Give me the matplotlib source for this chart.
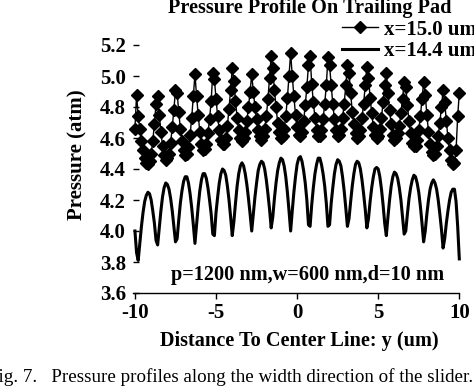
import matplotlib
matplotlib.use("Agg")
import matplotlib.pyplot as plt
import numpy as np

plt.rcParams['font.family'] = ['Liberation Serif', 'DejaVu Serif']
plt.rcParams['font.weight'] = 'bold'

# distance to center line y (um), sampled every 0.1 um
y_pos = np.round(np.linspace(-10, 10, 201), 1)

# pressure (atm) at x=15.0 um
p_150 = [
    4.66, 4.88, 4.74, 4.66, 4.58, 4.52, 4.47, 4.44, 4.43, 4.45,
    4.50, 4.58, 4.69, 4.82, 4.87, 4.75, 4.64, 4.55, 4.49, 4.46,
    4.47, 4.50, 4.57, 4.67, 4.78, 4.91, 4.89, 4.77, 4.66, 4.58,
    4.52, 4.49, 4.50, 4.54, 4.62, 4.73, 4.87, 5.01, 4.87, 4.75,
    4.64, 4.56, 4.52, 4.53, 4.56, 4.63, 4.72, 4.84, 5.02, 4.98,
    4.85, 4.74, 4.65, 4.59, 4.56, 4.56, 4.60, 4.68, 4.79, 4.91,
    5.05, 4.97, 4.84, 4.73, 4.65, 4.60, 4.58, 4.60, 4.64, 4.71,
    4.80, 4.90, 5.01, 4.90, 4.80, 4.72, 4.65, 4.61, 4.59, 4.61,
    4.66, 4.74, 4.85, 4.99, 5.13, 5.05, 4.91, 4.80, 4.70, 4.64,
    4.60, 4.61, 4.66, 4.74, 4.86, 5.00, 5.15, 5.00, 4.87, 4.75,
    4.67, 4.62, 4.61, 4.64, 4.71, 4.81, 4.93, 5.07, 5.13, 4.95,
    4.83, 4.73, 4.65, 4.61, 4.61, 4.65, 4.72, 4.82, 4.94, 5.12,
    5.07, 4.94, 4.82, 4.72, 4.65, 4.61, 4.62, 4.66, 4.73, 4.82,
    4.94, 5.07, 5.02, 4.89, 4.77, 4.69, 4.63, 4.60, 4.61, 4.65,
    4.73, 4.82, 4.94, 5.06, 4.99, 4.86, 4.76, 4.67, 4.62, 4.60,
    4.61, 4.66, 4.73, 4.83, 4.94, 5.02, 4.89, 4.78, 4.69, 4.62,
    4.59, 4.60, 4.63, 4.68, 4.76, 4.85, 4.96, 4.93, 4.81, 4.71,
    4.63, 4.57, 4.55, 4.55, 4.59, 4.65, 4.74, 4.85, 4.96, 4.88,
    4.75, 4.64, 4.56, 4.51, 4.49, 4.50, 4.55, 4.61, 4.70, 4.80,
    4.91, 4.83, 4.71, 4.60, 4.52, 4.46, 4.43, 4.44, 4.52, 4.74,
    4.89,
]

# pressure (atm) at x=14.4 um
p_144 = [
    4.00, 3.86, 3.81, 3.92, 4.03, 4.12, 4.19, 4.23, 4.25, 4.24,
    4.20, 4.13, 4.05, 3.94, 3.91, 4.02, 4.13, 4.22, 4.28, 4.31,
    4.30, 4.27, 4.21, 4.13, 4.03, 3.93, 3.95, 4.07, 4.18, 4.26,
    4.32, 4.35, 4.35, 4.31, 4.24, 4.15, 4.04, 3.92, 4.04, 4.16,
    4.26, 4.33, 4.37, 4.37, 4.34, 4.28, 4.20, 4.11, 3.98, 3.97,
    4.12, 4.22, 4.31, 4.37, 4.40, 4.39, 4.36, 4.29, 4.20, 4.09,
    3.97, 4.06, 4.18, 4.29, 4.37, 4.42, 4.44, 4.42, 4.37, 4.30,
    4.21, 4.11, 4.00, 4.11, 4.22, 4.31, 4.39, 4.43, 4.45, 4.44,
    4.40, 4.33, 4.24, 4.14, 4.02, 4.09, 4.21, 4.31, 4.39, 4.44,
    4.47, 4.46, 4.42, 4.35, 4.25, 4.13, 4.00, 4.13, 4.25, 4.35,
    4.43, 4.47, 4.48, 4.45, 4.39, 4.31, 4.20, 4.04, 4.03, 4.17,
    4.28, 4.37, 4.43, 4.47, 4.47, 4.43, 4.37, 4.29, 4.18, 4.03,
    4.04, 4.18, 4.28, 4.37, 4.43, 4.46, 4.45, 4.42, 4.35, 4.26,
    4.15, 4.03, 4.08, 4.19, 4.29, 4.37, 4.43, 4.45, 4.44, 4.40,
    4.33, 4.24, 4.14, 4.02, 4.08, 4.19, 4.28, 4.35, 4.40, 4.41,
    4.40, 4.35, 4.27, 4.17, 4.05, 3.97, 4.09, 4.20, 4.29, 4.35,
    4.38, 4.37, 4.34, 4.28, 4.20, 4.09, 3.98, 4.00, 4.11, 4.21,
    4.28, 4.33, 4.36, 4.35, 4.31, 4.25, 4.16, 4.05, 3.93, 4.00,
    4.11, 4.20, 4.27, 4.31, 4.33, 4.31, 4.27, 4.20, 4.11, 4.01,
    3.89, 3.95, 4.05, 4.13, 4.20, 4.25, 4.27, 4.27, 4.19, 4.03,
    3.82,
]

x_ticks = [-10, -5, 0, 5, 10]
y_ticks = [3.6, 3.8, 4.0, 4.2, 4.4, 4.6, 4.8, 5.0, 5.2]

W, H = 474, 388
fig = plt.figure(figsize=(W / 100, H / 100), dpi=100)
ax = fig.add_axes([133 / W, 1 - 293 / H, (459.3 - 133) / W, (293 - 45) / H])

ax.plot(y_pos, p_150, color='black', lw=1.0, marker='D', ms=6.5,
        label='x=15.0 um', clip_on=False)
ax.plot(y_pos, p_144, color='black', lw=2.2, label='x=14.4 um', clip_on=False)

ax.set_xlim(-10.12, 10.0)
ax.set_ylim(3.6, 5.2)
ax.set_xticks(x_ticks)
ax.set_xticklabels([str(v) for v in x_ticks])
ax.set_yticks(y_ticks)
ax.set_yticklabels(['%.1f' % v for v in y_ticks])

for s in ['top', 'right', 'left']:
    ax.spines[s].set_visible(False)
ax.spines['bottom'].set_linewidth(1.0)
ax.tick_params(axis='x', direction='out', length=4, width=1, pad=3, labelsize=15)
ax.tick_params(axis='y', direction='in', length=4, width=1, pad=5, labelsize=15)

ax.set_xlabel("Distance To Center Line: y (um)", fontsize=14.6, fontweight='bold', va='center')
ax.xaxis.set_label_coords((299 - 133) / 326.3, (293 - 341) / 248)
ax.set_ylabel("Pressure (atm)", fontsize=15, fontweight='bold', va='center')
ax.yaxis.set_label_coords((77 - 133) / 326.3, (293 - 155) / 248)

ax.text((307.5 - 133) / 326.3, (293 - 275) / 248, "p=1200 nm,w=600 nm,d=10 nm",
        transform=ax.transAxes, ha='center', va='center', fontsize=14.6, fontweight='bold')

fig.text(310 / W, 1 - 12.5 / H, "Pressure Profile On Trailing Pad",
         ha='center', va='baseline', fontsize=14.6, fontweight='bold')

ax.legend(loc='center left', bbox_to_anchor=(342 / W, 1 - 40.5 / H),
          bbox_transform=fig.transFigure, frameon=False, borderpad=0,
          borderaxespad=0, handlelength=1.75, handletextpad=0.25,
          labelspacing=0.08, numpoints=1, prop={'size': 15, 'weight': 'bold'})

fig.text(473.5 / W, 1 - 377 / H,
         "Fig. 7.   Pressure profiles along the width direction of the slider.",
         ha='right', va='center', fontsize=13.7, fontweight='normal')

fig.savefig("out.png", dpi=100)
